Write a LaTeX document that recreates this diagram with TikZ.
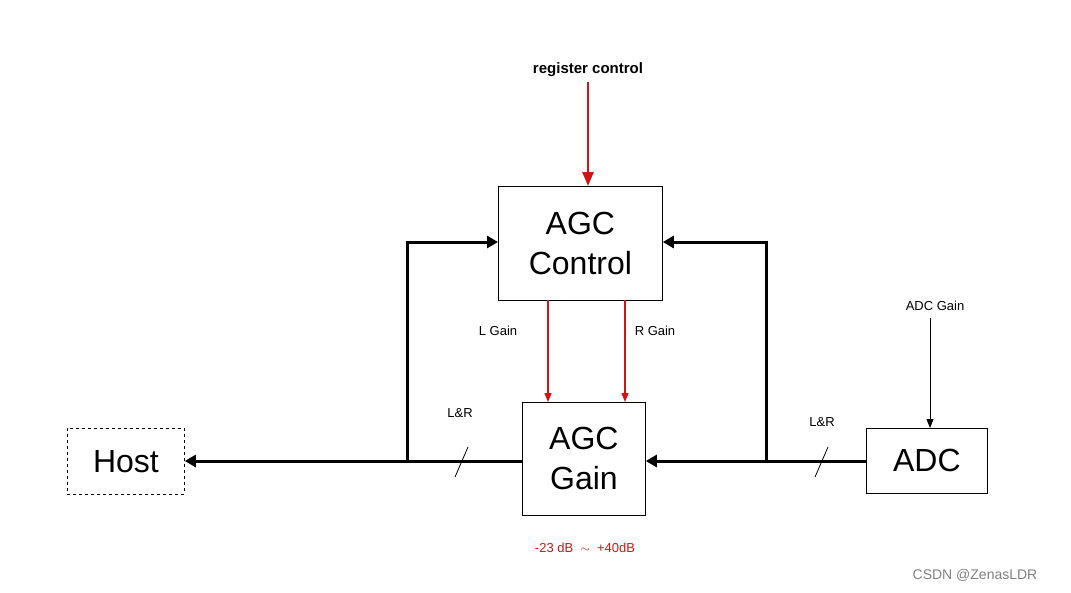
\documentclass[tikz,border=0pt]{standalone}
\usepackage{fontspec}
\setmainfont{Liberation Sans}
\usetikzlibrary{arrows.meta}
\begin{document}
\begin{tikzpicture}[x=1pt,y=-1pt,
  box/.style={draw,line width=0.8pt,inner sep=0pt,anchor=north west,align=center},
  big/.style={font=\fontsize{32}{40}\selectfont},
  thick arr/.style={line width=3pt,-{Triangle[length=11pt,width=12pt]}},
  red arr/.style={draw={rgb,255:red,210;green,20;blue,20},line width=1.2pt,-{Triangle[length=9pt,width=7pt]}},
  lbl/.style={font=\fontsize{13}{15}\selectfont}]
\useasboundingbox (0,0) rectangle (1071,592);
\node[box,big,minimum width=164pt,minimum height=114pt] (ctl) at (498,186) {AGC\\Control};
\node[box,big,minimum width=123pt,minimum height=113pt] (gain) at (522,402) {AGC\\Gain};
\node[box,big,dashed,minimum width=117pt,minimum height=66pt] (host) at (67,428) {Host};
\node[box,big,minimum width=121pt,minimum height=65pt] (adc) at (866,428) {ADC};
\node[font=\bfseries\fontsize{15}{17}\selectfont] (reg) at (588,70) {register control};
\node[lbl] (lg) at (498,331) {L Gain};
\node[lbl] (rg) at (655,331) {R Gain};
\node[lbl] (ag) at (935,306) {ADC Gain};
\node[lbl] (lr1) at (460,413) {L\&R};
\node[lbl] (lr2) at (822,422) {L\&R};
\node[font=\fontsize{13}{15}\selectfont,text={rgb,255:red,210;green,20;blue,20}] (rng) at (585,548) {-23 dB \ $\sim$ \ +40dB};
\node[font=\fontsize{14}{16}\selectfont,text=gray] (wm) at (975,575) {CSDN @ZenasLDR};
\coordinate (j1) at (407,461);
\coordinate (j2) at (766,461);
\draw[red arr,line width=2.5pt,-{Triangle[length=14pt,width=11pt]}] (588,82) -- (ctl.north-|588,0);
\draw[red arr] (548,300) -- (548,402);
\draw[red arr] (625,300) -- (625,402);
\draw[thick arr] (adc.west|-0,461) -- (gain.east|-0,461);
\draw[thick arr] (gain.west|-0,461) -- (host.east|-0,461);
\draw[line width=3pt,-{Triangle[length=11pt,width=12pt]}] (j1) -- (407,242) -- (ctl.west|-0,242);
\draw[line width=3pt,-{Triangle[length=11pt,width=12pt]}] (j2) -- (766,242) -- (ctl.east|-0,242);
\draw[line width=1pt,-{Triangle[length=9pt,width=7pt]}] (930,318) -- (adc.north-|930,0);
\draw[line width=0.8pt] (455,477) -- (468,447);
\draw[line width=0.8pt] (815,477) -- (828,447);
\end{tikzpicture}
\end{document}
